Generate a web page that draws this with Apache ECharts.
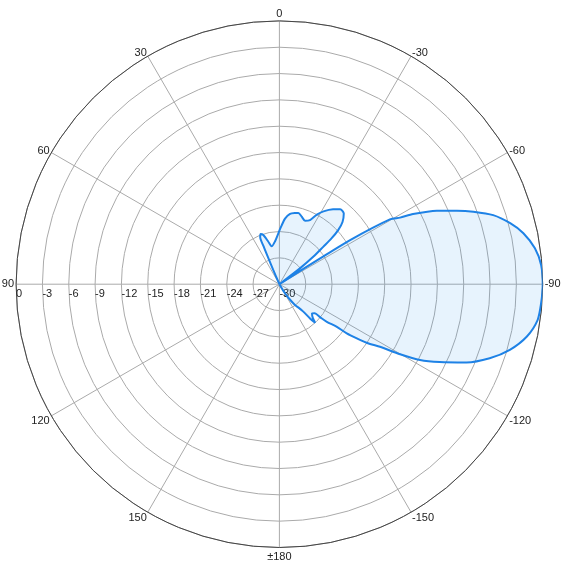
<!DOCTYPE html>
<html>
<head>
<meta charset="utf-8">
<script src="https://cdn.jsdelivr.net/npm/echarts@6/dist/echarts.min.js"></script>
<style>
html,body{margin:0;padding:0;background:#fff;}
#chart{width:566px;height:564px;}
</style>
</head>
<body>
<div id="chart"></div>
<script>
// Angles in degrees (0 = top, positive counter-clockwise), gain in dB
const angleDeg = [-180, -170, -160, -152, -149, -146, -143.1, -141, -139, -138.2, -137.2, -135.2, -132, -129.6, -129.0, -128.4, -126.6, -126.1, -125.0, -123.6, -121.9, -120.1, -118.3, -115.9, -112.7, -109.4, -105.9, -102.0, -97.9, -94.1, -90, -85.8, -82.0, -78.2, -75.2, -72.1, -69.5, -67.5, -65.0, -62.3, -61.1, -59.6, -58.0, -57.6, -57.2, -56.8, -53.5, -52.3, -51.0, -49.5, -48.7, -47.4, -45.4, -42.3, -39.0, -35.6, -31.2, -28.3, -25.5, -22.0, -18.3, -14.9, -12.3, -8.6, -4.9, -2.2, 1.2, 5.9, 11.6, 14.6, 18.1, 20.5, 22.2, 22.7, 23.0, 23.5, 24.5, 40, 60, 80, 100, 120, 140, 160, 180];
const gainDb = [-30, -30, -30, -30, -29.0, -28.0, -27.0, -26.6, -25.9, -24.8, -24.0, -24.6, -25.0, -24.8, -24.0, -23.1, -21.9, -20.5, -19.3, -17.8, -16.5, -14.1, -11.8, -9.7, -6.9, -4.6, -2.7, -1.2, -0.3, -0.1, 0, -0.1, -0.6, -1.6, -2.8, -4.4, -6.4, -8.1, -10.2, -12.8, -14.3, -15.4, -20.5, -24.5, -28.5, -30, -30, -27.0, -25.0, -23.4, -22.1, -20.9, -19.9, -19.1, -19.0, -19.5, -20.3, -21.0, -21.9, -22.2, -21.9, -21.6, -21.7, -21.9, -22.5, -23.3, -24.2, -25.1, -25.6, -25.0, -24.1, -23.9, -24.2, -25.4, -26.6, -28.2, -30, -30, -30, -30, -30, -30, -30, -30, -30];
// Axis tick labels
const radiusTicks = [-30, -27, -24, -21, -18, -15, -12, -9, -6, -3, 0];
const angleTicks = [90, 120, 150, '±180', -150, -120, -90, -60, -30, 0, 30, 60];
// rich style name per angle label (label placement class)
const angleLabelClass = ['md', 'lo', 'lo', 'bt', 'lo', 'lo', 'md', 'up', 'up', 'tp', 'up', 'up'];

// axis value runs from 90 (left) counter-clockwise to 450
function toAxis(a) { return a < 90 ? a + 360 : a; }
const pts = angleDeg.map((a, i) => [gainDb[i], toAxis(a)]);
pts.sort((p, q) => p[1] - q[1]);
pts.push([pts[0][0], pts[0][1] + 360]);

const FONT = 'Liberation Sans, Arial, sans-serif';
function rs(lh) { return {color: '#222', fontSize: 11, fontFamily: FONT, lineHeight: lh}; }

const chart = echarts.init(document.getElementById('chart'), null, {renderer: 'canvas'});
chart.setOption({
  animation: false,
  polar: {center: [279.4, 284.2], radius: 263.3},
  angleAxis: {
    type: 'value', min: 90, max: 450, interval: 30,
    startAngle: 180, clockwise: false,
    axisLine: {show: true, lineStyle: {color: '#444', width: 1}},
    axisTick: {show: false},
    axisLabel: {
      margin: 2, color: '#222', fontSize: 11, fontFamily: FONT,
      formatter: function (v) {
        const idx = Math.round((v - 90) / 30) % 12;
        return '{' + angleLabelClass[idx] + '|' + angleTicks[idx] + '}';
      },
      rich: {tp: rs(10), up: rs(2), lo: rs(8), bt: rs(14), md: rs(12)}
    },
    splitLine: {show: true, lineStyle: {color: '#aaaaaa', width: 1}}
  },
  radiusAxis: {
    type: 'value', min: -30, max: 0, interval: 3,
    axisLine: {show: false},
    axisTick: {show: false},
    axisLabel: {
      align: 'left', verticalAlign: 'top', margin: 4,
      color: '#222', fontSize: 11, fontFamily: FONT,
      formatter: function (v) { return String(radiusTicks[Math.round((v + 30) / 3)]); }
    },
    splitLine: {show: true, lineStyle: {color: '#aaaaaa', width: 1}}
  },
  series: [{
    type: 'line',
    coordinateSystem: 'polar',
    data: pts,
    symbol: 'none',
    smooth: 0.25,
    lineStyle: {color: '#1e82e6', width: 2},
    areaStyle: {color: 'rgba(30,140,240,0.15)', origin: 'start'}
  }]
});
</script>
</body>
</html>
